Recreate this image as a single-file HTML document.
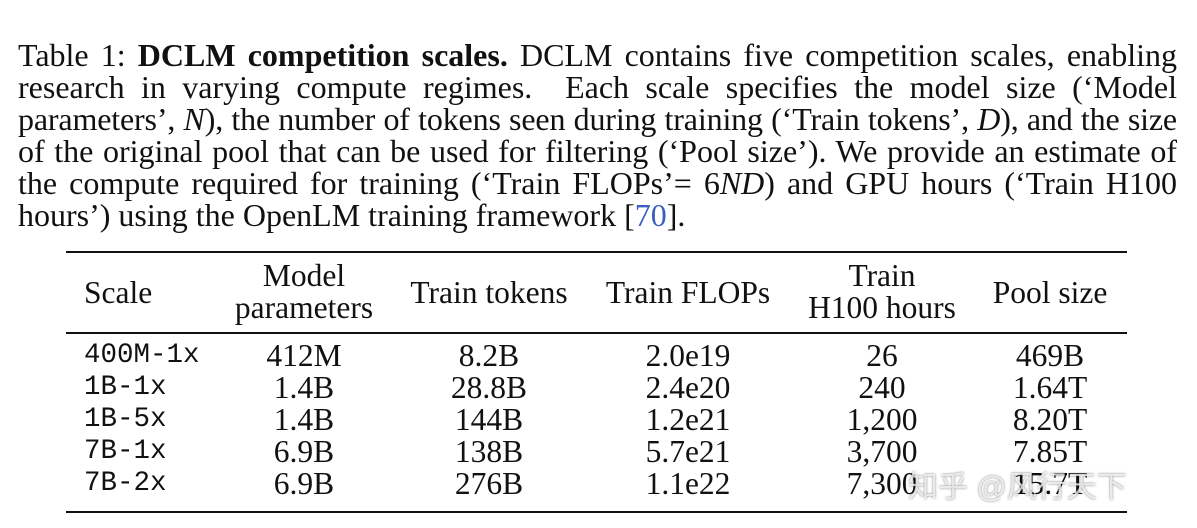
<!DOCTYPE html>
<html><head><meta charset="utf-8"><style>
body{margin:0;width:1197px;height:528px;background:#fff;position:relative;overflow:hidden;font-family:"Liberation Serif",serif;color:#111}
#cap{position:absolute;left:18px;top:39px;width:1159px;font-size:32px;line-height:32px}
#cap div{text-align:justify;text-align-last:justify;white-space:nowrap}
#cap div.last{text-align-last:left}
#cap div.tight{letter-spacing:-0.15px;word-spacing:-1px}
.rule{position:absolute;left:66px;width:1061px;background:#111}
.c{position:absolute;font-size:31.5px;line-height:32px;white-space:nowrap;transform:translateX(-50%);text-align:center}
.l{position:absolute;font-size:31.5px;line-height:32px;white-space:nowrap}
.m{font-family:"Liberation Mono",monospace;font-size:27.5px}
a{color:#3b5fc0;text-decoration:none}
#wm{position:absolute;left:908px;top:462px;font-family:"Liberation Sans","Noto Sans CJK SC",sans-serif;font-size:30px;color:rgba(255,255,255,0.75);text-shadow:0 0 2px rgba(0,0,0,0.5)}
</style></head><body>
<div id="cap">
<div>Table 1: <b>DCLM competition scales.</b> DCLM contains five competition scales, enabling</div>
<div>research in varying compute regimes.&nbsp; Each scale specifies the model size (‘Model</div>
<div class="tight">parameters’, <i>N</i>), the number of tokens seen during training (‘Train tokens’, <i>D</i>), and the size</div>
<div>of the original pool that can be used for filtering (‘Pool size’). We provide an estimate of</div>
<div>the compute required for training (‘Train FLOPs’= 6<i>ND</i>) and GPU hours (‘Train H100</div>
<div class="last">hours’) using the OpenLM training framework [<a>70</a>].</div>
</div>
<div class="rule" style="top:251px;height:2px"></div>
<div class="rule" style="top:332px;height:1.5px"></div>
<div class="rule" style="top:511px;height:2px"></div>
<div>
<div class="l" style="left:84px;top:277px">Scale</div>
<div class="c" style="left:304px;top:260px">Model<br>parameters</div>
<div class="c" style="left:489px;top:277px">Train tokens</div>
<div class="c" style="left:688px;top:277px">Train FLOPs</div>
<div class="c" style="left:882px;top:260px">Train<br>H100 hours</div>
<div class="c" style="left:1050px;top:277px">Pool size</div>
</div>
<div id="rows"></div>
<div id="wm">知乎 @风行天下</div>
<script>
const scales=["400M-1x","1B-1x","1B-5x","7B-1x","7B-2x"];
const params=["412M","1.4B","1.4B","6.9B","6.9B"];
const tokens=["8.2B","28.8B","144B","138B","276B"];
const flops=["2.0e19","2.4e20","1.2e21","5.7e21","1.1e22"];
const hours=["26","240","1,200","3,700","7,300"];
const pool=["469B","1.64T","8.20T","7.85T","15.7T"];
const body=document.getElementById('rows');
const cols=[[params,304],[tokens,489],[flops,688],[hours,882],[pool,1050]];
scales.forEach((s,i)=>{
  const top=340+i*32;
  const row=document.createElement('div');
  
  
  const d=document.createElement('div');
  d.className='l m';d.style.left='84px';d.style.top=top+'px';d.textContent=s;
  
  
  row.appendChild(d);
  cols.forEach(([arr,x])=>{
    const c=document.createElement('div');
    c.className='c';c.style.left=x+'px';c.style.top=top+'px';c.textContent=arr[i];
    
    
    row.appendChild(c);
  });
  body.appendChild(row);
});
</script>
</body></html>
